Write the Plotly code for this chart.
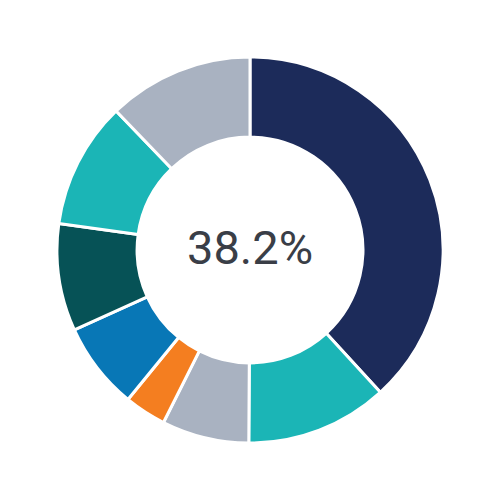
import plotly.graph_objects as go

labels = ["A", "B", "C", "D", "E", "F", "G", "H"]
values = [38.2, 11.9, 7.3, 3.5, 7.3, 9.0, 10.6, 12.2]
colors = ["#1c2b5a", "#1bb5b6", "#a9b2c1", "#f47e20", "#0877b6", "#065256", "#1bb5b6", "#a9b2c1"]
center_text = "38.2%"

fig = go.Figure(go.Pie(
    labels=labels,
    values=values,
    hole=0.585,
    sort=False,
    direction="clockwise",
    rotation=0,
    textinfo="none",
    hoverinfo="none",
    marker=dict(colors=colors, line=dict(color="white", width=3)),
    showlegend=False,
))
fig.update_layout(
    width=500, height=500,
    margin=dict(l=49, r=65, t=49, b=65),
    paper_bgcolor="white",
    annotations=[dict(text=center_text, x=0.5, y=0.5, xref="paper", yref="paper",
                      yshift=3, showarrow=False,
                      font=dict(family="Roboto", size=47, color="#3a3e47"))],
)
fig.write_html("out.html")
